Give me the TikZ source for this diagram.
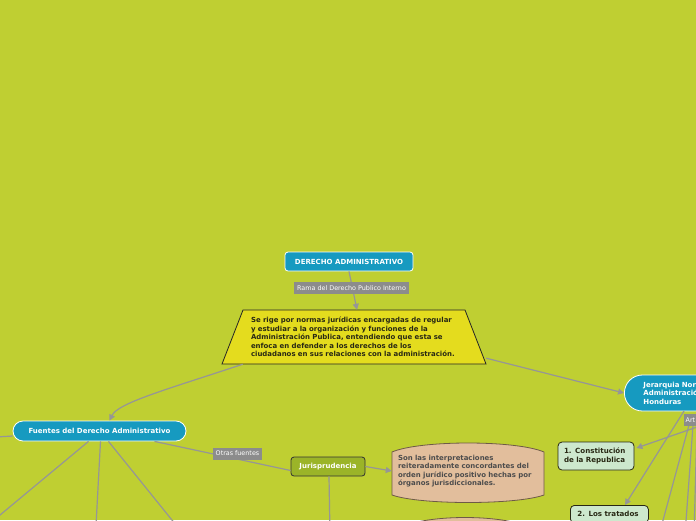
\documentclass[tikz,border=0pt]{standalone}
\usepackage{fontspec}
\setmainfont{DejaVu Sans}
\usetikzlibrary{arrows.meta}
\definecolor{bg}{RGB}{191,207,50}
\definecolor{tealc}{RGB}{22,154,192}
\definecolor{yellowc}{RGB}{228,220,30}
\definecolor{labgray}{RGB}{140,140,140}
\definecolor{linegray}{RGB}{150,150,150}
\definecolor{olivec}{RGB}{155,180,40}
\definecolor{tanc}{RGB}{226,190,156}
\definecolor{tanb}{RGB}{110,90,70}
\definecolor{mintc}{RGB}{205,232,205}
\definecolor{darktxt}{RGB}{40,40,20}
\begin{document}
\begin{tikzpicture}[x=1pt,y=-1pt,
  conn/.style={draw=linegray, line width=1.2pt},
  arr/.style={conn, -{Triangle[length=6pt,width=6pt]}},
  lab/.style={fill=labgray, text=white, font=\fontsize{6.4}{7}\selectfont, inner xsep=3pt, inner ysep=0pt, minimum height=12pt},
  tealnode/.style={fill=tealc, draw=white, line width=0.8pt, text=white, font=\bfseries\fontsize{7}{8.5}\selectfont},
  mint/.style={fill=mintc, draw=darktxt, line width=0.8pt, rounded corners=4pt, text=darktxt, font=\bfseries\fontsize{7.1}{8.8}\selectfont, align=left},
  bodytxt/.style={font=\bfseries\fontsize{6.95}{8.5}\selectfont, align=left}
]
\useasboundingbox (0,0) rectangle (696,520);
\fill[bg] (0,0) rectangle (696,520);
\begin{scope}
\clip (0,0) rectangle (696,520);

% nodes
\node[tealnode, rounded corners=3pt, minimum width=128pt, minimum height=19pt, inner sep=0pt] (top) at (349,261.5) {DERECHO ADMINISTRATIVO};

\fill[yellowc] (243,310) -- (465,310) -- (486,364) -- (222,364) -- cycle;
\draw[black!85, line width=0.8pt] (243,310) -- (465,310) -- (486,364) -- (222,364) -- cycle;
\node[bodytxt, text=darktxt, text width=206pt, inner xsep=29pt, inner ysep=0pt, minimum height=54pt] (def) at (354,337)
 {Se rige por normas jurídicas encargadas de regular\\y estudiar a la organización y funciones de la\\Administración Publica, entendiendo que esta se\\enfoca en defender a los derechos de los\\ciudadanos en sus relaciones con la administración.};

\node[tealnode, rounded corners=10pt, minimum width=173pt, minimum height=20pt, inner sep=0pt] (fue) at (99.5,431) {Fuentes del Derecho Administrativo};

\node[fill=olivec, draw=black!80, line width=0.8pt, rounded corners=3pt, text=white, font=\bfseries\fontsize{7}{8}\selectfont, minimum width=74pt, minimum height=19pt, inner sep=0pt] (jur) at (328,466.5) {Jurisprudencia};

\fill[tanc] (392,452) .. controls (420,440) and (516,440) .. (544,452) -- (544,495) .. controls (516,505) and (420,505) .. (392,495) -- cycle;
\draw[tanb, line width=0.8pt] (392,452) .. controls (420,440) and (516,440) .. (544,452) -- (544,495) .. controls (516,505) and (420,505) .. (392,495) -- cycle;
\node[bodytxt, text=black!70, text width=140pt, inner xsep=6pt, inner ysep=0pt, minimum height=54pt] (interp) at (468,471)
 {Son las interpretaciones\\reiteradamente concordantes del\\orden jurídico positivo hechas por\\órganos jurisdiccionales.};

\fill[tanc] (400,528) .. controls (425,514) and (505,514) .. (530,528) -- (530,560) -- (400,560) -- cycle;
\draw[tanb, line width=0.8pt] (400,528) .. controls (425,514) and (505,514) .. (530,528) -- (530,560) -- (400,560) -- cycle;

\node[tealnode, rounded corners=18pt, minimum height=36pt, text width=97pt, inner xsep=19pt, inner ysep=2pt, align=left, anchor=west] (jer) at (624,393)
 {Jerarquia Nor\\Administració\\Honduras};

\node[mint, minimum width=76pt, minimum height=28pt, text width=64pt, inner xsep=6pt, inner ysep=2pt] (const) at (596,456) {1. Constitución\\de la Republica};

\node[mint, anchor=north west, text width=64pt, inner xsep=7pt, inner ysep=6pt] (trat) at (570,505) {2. Los tratados\\ };

% free ends
\coordinate (fL) at (-20,438);
\coordinate (f1) at (-12,525);
\coordinate (f2) at (95.5,535);
\coordinate (f3) at (180,530);
\coordinate (jd) at (330,535);
\coordinate (r1) at (659,535);
\coordinate (r2) at (685,535);
\coordinate (r3) at (694,535);

% connectors
\draw[arr] (top.south) -- ([xshift=3pt]def.north);
\draw[arr] ([xshift=21pt]def.south west) .. controls (165,390) and (118,403) .. ([xshift=10pt]fue.north);
\draw[arr] ([yshift=6pt]def.south east) -- (jer.west);
\draw[conn] ([yshift=-5pt]fue.west) -- (fL);
\draw[conn] ([xshift=-11pt]fue.south) -- (f1);
\draw[conn] ([xshift=1pt]fue.south) -- (f2);
\draw[conn] ([xshift=9pt]fue.south) -- (f3);
\draw[conn] ([xshift=55pt]fue.south) -- ([yshift=-4pt]jur.west);
\draw[arr] (jur.east) -- (interp.west);
\draw[conn] ([xshift=1pt]jur.south) -- (jd);
\draw[arr] (700,426) -- ([yshift=8pt, xshift=2pt]const.east);
\draw[arr] (684,411) -- ([xshift=55pt]trat.north west);
\draw[conn] (689,425) -- (r1);
\draw[conn] (693,425) -- (r2);
\draw[conn] (697,425) -- (r3);

% labels
\node[lab] (rama) at (351.5,288) {Rama del Derecho Publico Interno};
\node[lab] (otras) at (237.5,453.5) {Otras fuentes};
\fill[labgray] (684,414) rectangle (700,426);
\node[font=\fontsize{6.4}{7}\selectfont, text=white, anchor=west, inner sep=0pt] (art) at (685.5,420) {Art};

\end{scope}
\end{tikzpicture}
\end{document}
